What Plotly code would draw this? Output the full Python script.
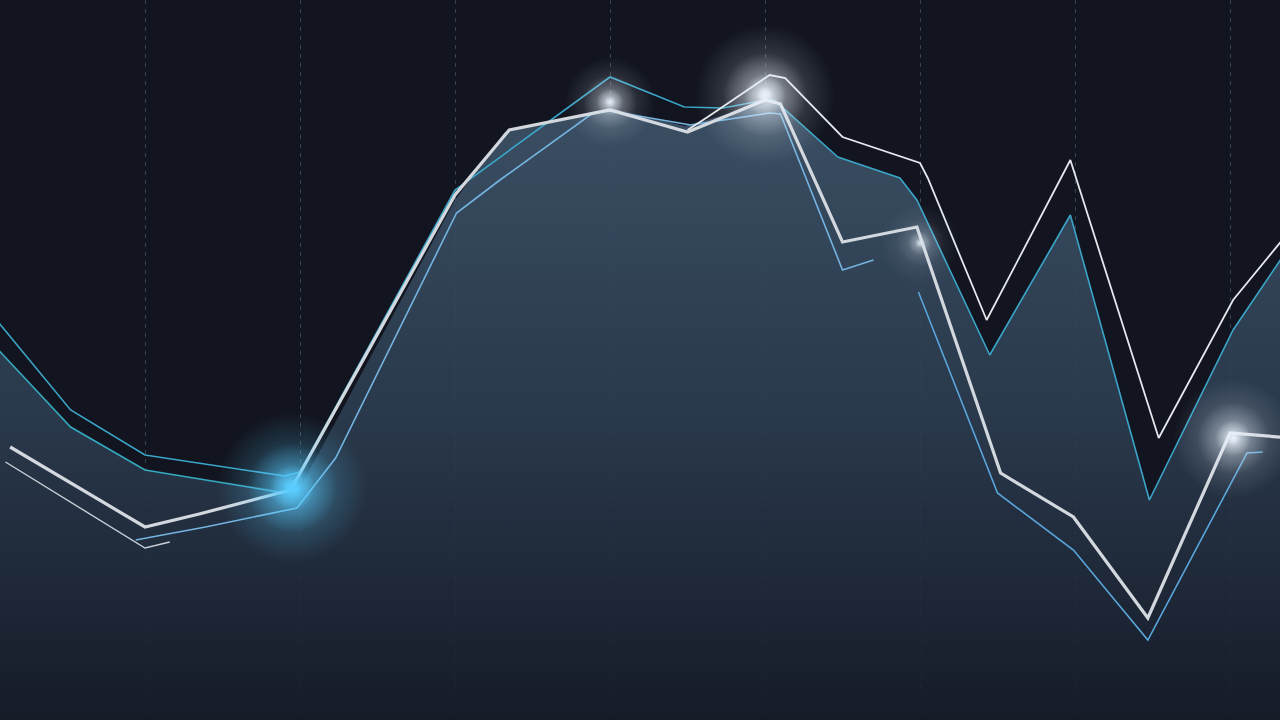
import plotly.graph_objects as go

# ---- data (x in periods, y in index value) ----
fill_x = [0.00, 0.52, 1.00, 1.94, 2.00, 3.00, 3.32, 4.00, 4.48, 5.00, 5.06, 5.47, 5.87, 5.98, 6.45, 6.97, 7.48, 8.02, 8.39]
fill_y = [379, 293, 250, 228, 232, 520, 588, 612, 594, 616, 620, 563, 542, 520, 365, 505, 220, 390, 475]

teal_x = [0.00, 0.52, 1.00, 1.90, 2.00, 3.00, 4.00, 4.48, 4.73, 5.00, 5.06, 5.47, 5.87, 5.98, 6.45, 6.97, 7.48, 8.02, 8.39]
teal_y = [408, 310, 265, 244, 248, 530, 643, 613, 612, 620, 620, 563, 542, 520, 365, 505, 220, 390, 475]

teal_low_x = [0.00, 0.52, 1.00, 1.90, 2.00]
teal_low_y = [379, 293, 250, 227, 232]

blue_low_x = [0.94, 1.39, 1.98, 2.23, 3.01, 3.29, 3.89, 4.00, 4.52, 5.03, 5.10, 5.50, 5.70]
blue_low_y = [180, 193, 212, 262, 507, 540, 607, 609, 595, 607, 606, 450, 460]

white_main_x = [0.13, 1.00, 1.35, 1.94, 3.00, 3.35, 4.00, 4.50, 5.00, 5.10, 5.50, 5.98, 6.52, 6.99, 7.47, 8.00, 8.39]
white_main_y = [273, 193, 206, 230, 525, 590, 610, 588, 620, 616, 478, 493, 247, 203, 102, 287, 282]

white_top_x = [4.50, 4.63, 5.03, 5.13, 5.50, 6.00, 6.05, 6.43, 6.97, 7.54, 8.02, 8.39]
white_top_y = [590, 603, 645, 642, 583, 557, 542, 400, 560, 282, 420, 490]

blue_right_x = [5.99, 6.50, 6.99, 7.47, 8.11, 8.21]
blue_right_y = [428, 227, 170, 80, 267, 268]

white_thin_x = [0.10, 1.00, 1.16]
white_thin_y = [258, 172, 178]

glow_x = [1.95, 4.00, 5.00, 6.00, 8.02]
glow_y = [232, 618, 625, 477, 282]
glow_rgb = ["90,205,255", "225,235,245", "232,240,250", "215,225,235", "232,240,250"]
glow_size = [150, 90, 140, 80, 120]
glow_alpha = [0.85, 0.55, 0.7, 0.3, 0.6]

BG = "#12151f"

fig = go.Figure()

fig.add_trace(go.Scatter(
    x=fill_x, y=fill_y, mode="lines", line=dict(width=0, color="rgba(0,0,0,0)"),
    fill="tozeroy",
    fillgradient=dict(type="vertical", colorscale=[
        [0.0, "rgba(22,28,41,0.88)"],
        [0.5, "rgba(45,62,82,0.88)"],
        [1.0, "rgba(64,86,108,0.88)"],
    ]),
    hoverinfo="skip", showlegend=False))

def add_line(x, y, color, width):
    fig.add_trace(go.Scatter(x=x, y=y, mode="lines",
                             line=dict(color=color, width=width),
                             hoverinfo="skip", showlegend=False))

add_line(teal_x, teal_y, "#3aa5c8", 1.6)
add_line(teal_low_x, teal_low_y, "#35a9bf", 1.6)
add_line(blue_low_x, blue_low_y, "#74b4e0", 1.6)
add_line(blue_right_x, blue_right_y, "#5aa6dc", 1.6)
add_line(white_thin_x, white_thin_y, "#c9ced6", 1.4)
add_line(white_top_x, white_top_y, "#e4e7ec", 1.8)
add_line(white_main_x, white_main_y, "#d3d8de", 3.2)

# glows: radial gradient, opaque centre fading to transparent edge
for gx, gy, rgb, s, a in zip(glow_x, glow_y, glow_rgb, glow_size, glow_alpha):
    for frac, aa in [(1.0, a * 0.5), (0.6, a * 0.8), (0.3, min(1, a + 0.2)), (0.12, 1.0)]:
        fig.add_trace(go.Scatter(
            x=[gx], y=[gy], mode="markers",
            marker=dict(size=s * frac, color=f"rgba({rgb},0)", line=dict(width=0),
                        gradient=dict(type="radial", color=f"rgba({rgb},{aa})")),
            hoverinfo="skip", showlegend=False))

fig.update_layout(
    width=1280, height=720, autosize=False,
    margin=dict(l=0, r=0, t=0, b=0),
    paper_bgcolor=BG, plot_bgcolor=BG,
    xaxis=dict(range=[0.0645, 8.3226], tick0=0, dtick=1, showgrid=True,
               gridcolor="#3a4252", gridwidth=1, griddash="4px,5px",
               showticklabels=False, zeroline=False, showline=False, fixedrange=True),
    yaxis=dict(range=[0, 720], showgrid=False, showticklabels=False,
               zeroline=False, showline=False, fixedrange=True),
)

fig.write_html("out.html", config={"displayModeBar": False},
               post_script="document.body.style.margin='0';document.body.style.background='#12151f';document.body.style.overflow='hidden';")
